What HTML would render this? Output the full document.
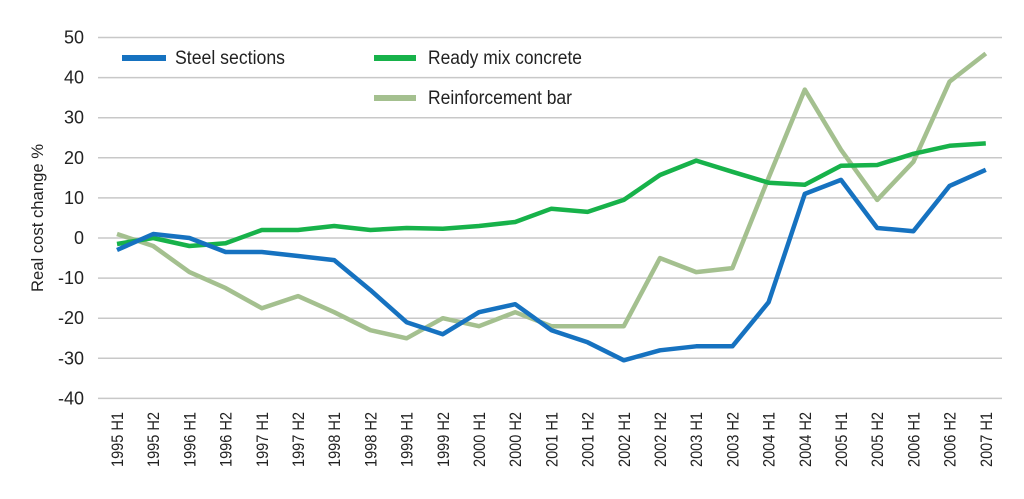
<!DOCTYPE html>
<html><head><style>
body{margin:0;background:#fff;}
svg text{font-family:"Liberation Sans Narrow","Liberation Sans",sans-serif;fill:#222;}
</style></head><body>
<svg width="1024" height="494" viewBox="0 0 1024 494" xmlns="http://www.w3.org/2000/svg">
<g stroke="#c8c8c8" stroke-width="1.5">
<line x1="98" x2="1002" y1="37.5" y2="37.5"/><line x1="98" x2="1002" y1="77.6" y2="77.6"/>
<line x1="98" x2="1002" y1="117.7" y2="117.7"/><line x1="98" x2="1002" y1="157.8" y2="157.8"/>
<line x1="98" x2="1002" y1="197.9" y2="197.9"/><line x1="98" x2="1002" y1="238" y2="238"/>
<line x1="98" x2="1002" y1="278.1" y2="278.1"/><line x1="98" x2="1002" y1="318.2" y2="318.2"/>
<line x1="98" x2="1002" y1="358.3" y2="358.3"/><line x1="98" x2="1002" y1="398.4" y2="398.4"/>
</g>
<g font-size="18" text-anchor="end">
<text x="84" y="43.5">50</text><text x="84" y="83.6">40</text><text x="84" y="123.7">30</text>
<text x="84" y="163.8">20</text><text x="84" y="203.9">10</text><text x="84" y="244">0</text>
<text x="84" y="284.1">-10</text><text x="84" y="324.2">-20</text><text x="84" y="364.3">-30</text><text x="84" y="404.4">-40</text>
</g>
<text font-size="17" transform="translate(43,218) rotate(-90)" text-anchor="middle" textLength="148" lengthAdjust="spacingAndGlyphs">Real cost change %</text>
<g id="xl" font-size="17" text-anchor="end"></g>
<polyline id="reb" fill="none" stroke="#a4c08f" stroke-width="4.5" stroke-linejoin="round"/>
<polyline id="con" fill="none" stroke="#17b24a" stroke-width="4.5" stroke-linejoin="round"/>
<polyline id="stl" fill="none" stroke="#1672c0" stroke-width="4.5" stroke-linejoin="round"/>
<line x1="122" x2="166" y1="58" y2="58" stroke="#1672c0" stroke-width="6"/>
<text x="175" y="64" font-size="19" textLength="110" lengthAdjust="spacingAndGlyphs">Steel sections</text>
<line x1="374" x2="416" y1="58" y2="58" stroke="#17b24a" stroke-width="6"/>
<text x="428" y="64" font-size="19" textLength="154" lengthAdjust="spacingAndGlyphs">Ready mix concrete</text>
<line x1="374" x2="416" y1="98" y2="98" stroke="#a4c08f" stroke-width="6"/>
<text x="428" y="104" font-size="19" textLength="144" lengthAdjust="spacingAndGlyphs">Reinforcement bar</text>
<script>
var x0=117,st=36.2;
var s=[-3,1,0,-3.5,-3.5,-4.5,-5.5,-13,-21,-24,-18.5,-16.5,-23,-26,-30.5,-28,-27,-27,-16,11,14.5,2.5,1.7,13,17];
var c=[-1.5,0,-2,-1.3,2,2,3,2,2.5,2.3,3,4,7.3,6.5,9.5,15.7,19.3,16.5,13.8,13.3,18,18.2,21,23,23.6];
var r=[1,-2,-8.5,-12.5,-17.5,-14.5,-18.5,-23,-25,-20,-22,-18.5,-22,-22,-22,-5,-8.5,-7.5,15,37,22,9.5,19,39,46];
function pts(a){return a.map(function(v,i){return (x0+i*st).toFixed(1)+","+(238-v*4.01).toFixed(1)}).join(" ")}
document.getElementById("stl").setAttribute("points",pts(s));
document.getElementById("con").setAttribute("points",pts(c));
document.getElementById("reb").setAttribute("points",pts(r));
var g=document.getElementById("xl"),ns="http://www.w3.org/2000/svg";
for(var i=0;i<25;i++){var y=1995+Math.floor(i/2),h=i%2?"H2":"H1";
var t=document.createElementNS(ns,"text");var x=x0+i*st+6;
t.setAttribute("transform","translate("+x+",412) rotate(-90)");
t.setAttribute("textLength","55");t.setAttribute("lengthAdjust","spacingAndGlyphs");
t.textContent=y+" "+h;g.appendChild(t);}
</script>
</svg>
</body></html>
